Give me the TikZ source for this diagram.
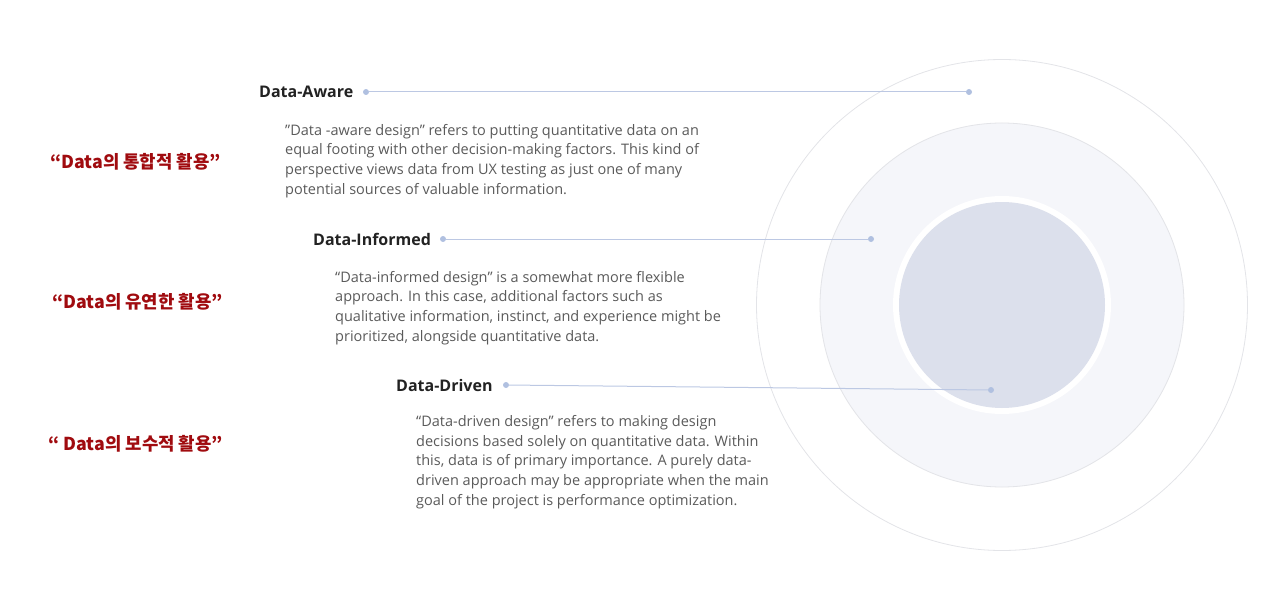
\documentclass[tikz,border=0pt]{standalone}
\usepackage{fontspec}
\setmainfont{Open Sans}
\newfontfamily\kr{Noto Sans CJK KR}
\definecolor{headc}{HTML}{222222}
\definecolor{descc}{HTML}{5A5A5A}
\definecolor{redc}{HTML}{A00B0F}
\definecolor{linec}{HTML}{BCC8E3}
\definecolor{dotc}{HTML}{B0C0E0}
\definecolor{ringc}{HTML}{E3E4E8}
\definecolor{midfill}{HTML}{F5F6FA}
\definecolor{innerfill}{HTML}{DCE0EC}
\begin{document}
\begin{tikzpicture}[x=1pt,y=-1pt,
  head/.style={anchor=base west,inner sep=0pt,text=headc,font=\fontsize{16}{19}\selectfont\bfseries},
  desc/.style={anchor=base west,inner sep=0pt,text=descc,align=left,font=\fontsize{14.5}{19.8}\selectfont},
  kor/.style={anchor=base west,inner sep=0pt,text=redc,font=\kr\fontsize{17.8}{20}\selectfont\bfseries},
  dotn/.style={circle,fill=dotc,inner sep=0pt,minimum size=6pt},
  conn/.style={draw=linec,line width=1pt}]
\useasboundingbox (0,0) rectangle (1280,591);
% circles
\draw[ringc,line width=0.8pt,fill=white] (1002,305) circle (245.5);
\draw[ringc,line width=0.8pt,fill=midfill] (1002,305) circle (182);
\fill[white] (1002,305) circle (109);
\fill[innerfill] (1002,305) circle (103);
% dots
\node[dotn] (a1) at (366,92) {};
\node[dotn] (a2) at (969,92) {};
\node[dotn] (i1) at (443,239) {};
\node[dotn] (i2) at (871,239) {};
\node[dotn] (d1) at (506,385) {};
\node[dotn] (d2) at (991,390) {};
\draw[conn] (a1) -- (a2);
\draw[conn] (i1) -- (i2);
\draw[conn] (d1) -- (d2);
% headings
\node[head] (ha) at (259,98) {Data-Aware};
\node[head] (hi) at (313,245) {Data-Informed};
\node[head] (hd) at (396,391) {Data-Driven};
% descriptions (base anchor = baseline of last line)
\node[desc] (pa) at (285,194.5) {”Data -aware design” refers to putting quantitative data on an\\equal footing with other decision-making factors. This kind of\\perspective views data from UX testing as just one of many\\potential sources of valuable information.};
\node[desc] (pi) at (335,341.5) {“Data-informed design” is a somewhat more flexible\\approach. In this case, additional factors such as\\qualitative information, instinct, and experience might be\\prioritized, alongside quantitative data.};
\node[desc] (pd) at (416,505.5) {“Data-driven design” refers to making design\\decisions based solely on quantitative data. Within\\this, data is of primary importance. A purely data-\\driven approach may be appropriate when the main\\goal of the project is performance optimization.};
% korean
\node[kor] (ka) at (50,168.5) {“Data의 통합적 활용”};
\node[kor] (ki) at (52,308.5) {“Data의 유연한 활용”};
\node[kor] (kd) at (48,450.5) {“ Data의 보수적 활용”};
\end{tikzpicture}
\end{document}
